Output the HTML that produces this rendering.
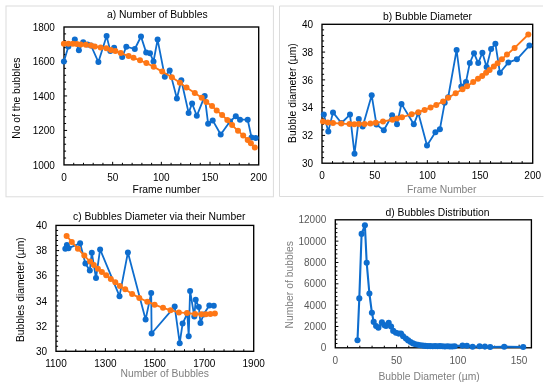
<!DOCTYPE html>
<html><head><meta charset="utf-8"><title>Bubbles</title>
<style>
html,body{margin:0;padding:0;background:#fff;}
svg{display:block;font-family:"Liberation Sans", Arial, sans-serif;}
</style></head>
<body>
<svg width="550" height="388" viewBox="0 0 550 388">
<rect width="550" height="388" fill="#fff"/>
<rect x="6" y="6" width="267.4" height="190.8" fill="#fff" stroke="#dcdcdc" stroke-width="1"/>
<rect x="64" y="27.0" width="194.70" height="137.90" fill="none" stroke="#000" stroke-width="1.35"/>
<path d="M73.73 164.9v-2.1M83.47 164.9v-2.1M93.20 164.9v-2.1M102.94 164.9v-2.1M112.67 164.9v-3.1M122.41 164.9v-2.1M132.14 164.9v-2.1M141.88 164.9v-2.1M151.62 164.9v-2.1M161.35 164.9v-3.1M171.08 164.9v-2.1M180.82 164.9v-2.1M190.56 164.9v-2.1M200.29 164.9v-2.1M210.03 164.9v-3.1M219.76 164.9v-2.1M229.49 164.9v-2.1M239.23 164.9v-2.1M248.96 164.9v-2.1M64 158.00h2.1M64 151.11h2.1M64 144.22h2.1M64 137.32h2.1M64 130.43h3.1M64 123.53h2.1M64 116.64h2.1M64 109.74h2.1M64 102.84h2.1M64 95.95h3.1M64 89.06h2.1M64 82.16h2.1M64 75.27h2.1M64 68.37h2.1M64 61.48h3.1M64 54.58h2.1M64 47.69h2.1M64 40.79h2.1M64 33.90h2.1" stroke="#000" stroke-width="1" fill="none"/>
<g fill="#0E6DCE" stroke="none"><polyline points="63.9,61.5 68.4,46.4 74.8,39.6 78.9,50.3 83.2,42.2 87.5,44.5 91.0,45.5 98.4,62.1 106.6,36.1 110.3,50.9 114.1,47.7 122.2,57.1 126.3,46.7 134.8,49.0 141.0,36.5 146.2,52.6 150.0,53.2 153.5,61.5 157.6,39.6 164.8,76.7 169.7,70.6 176.9,98.5 181.3,80.3 188.6,112.9 192.1,103.5 196.8,115.8 204.7,96.1 208.1,123.7 212.7,120.4 220.7,134.5 230.0,121.5 235.8,116.2 240.0,119.7 247.7,119.7 251.5,137.4 255.7,138.0" fill="none" stroke="#0E6DCE" stroke-width="1.8" stroke-linejoin="round"/>
<circle cx="63.9" cy="61.5" r="3.0"/>
<circle cx="68.4" cy="46.4" r="3.0"/>
<circle cx="74.8" cy="39.6" r="3.0"/>
<circle cx="78.9" cy="50.3" r="3.0"/>
<circle cx="83.2" cy="42.2" r="3.0"/>
<circle cx="87.5" cy="44.5" r="3.0"/>
<circle cx="91.0" cy="45.5" r="3.0"/>
<circle cx="98.4" cy="62.1" r="3.0"/>
<circle cx="106.6" cy="36.1" r="3.0"/>
<circle cx="110.3" cy="50.9" r="3.0"/>
<circle cx="114.1" cy="47.7" r="3.0"/>
<circle cx="122.2" cy="57.1" r="3.0"/>
<circle cx="126.3" cy="46.7" r="3.0"/>
<circle cx="134.8" cy="49.0" r="3.0"/>
<circle cx="141.0" cy="36.5" r="3.0"/>
<circle cx="146.2" cy="52.6" r="3.0"/>
<circle cx="150.0" cy="53.2" r="3.0"/>
<circle cx="153.5" cy="61.5" r="3.0"/>
<circle cx="157.6" cy="39.6" r="3.0"/>
<circle cx="164.8" cy="76.7" r="3.0"/>
<circle cx="169.7" cy="70.6" r="3.0"/>
<circle cx="176.9" cy="98.5" r="3.0"/>
<circle cx="181.3" cy="80.3" r="3.0"/>
<circle cx="188.6" cy="112.9" r="3.0"/>
<circle cx="192.1" cy="103.5" r="3.0"/>
<circle cx="196.8" cy="115.8" r="3.0"/>
<circle cx="204.7" cy="96.1" r="3.0"/>
<circle cx="208.1" cy="123.7" r="3.0"/>
<circle cx="212.7" cy="120.4" r="3.0"/>
<circle cx="220.7" cy="134.5" r="3.0"/>
<circle cx="230.0" cy="121.5" r="3.0"/>
<circle cx="235.8" cy="116.2" r="3.0"/>
<circle cx="240.0" cy="119.7" r="3.0"/>
<circle cx="247.7" cy="119.7" r="3.0"/>
<circle cx="251.5" cy="137.4" r="3.0"/>
<circle cx="255.7" cy="138.0" r="3.0"/>
</g>
<g fill="#FE7716" stroke="none"><polyline points="63.9,43.7 68.4,43.7 72.9,43.7 76.8,44.1 80.6,44.5 85.8,44.7 90.9,45.5 94.8,46.4 100.6,47.6 106.4,48.2 110.9,50.1 115.4,50.9 120.8,53.1 128.6,56.1 133.5,57.8 140.0,60.3 146.4,63.1 153.7,66.8 162.2,71.6 171.9,77.2 179.9,82.7 186.5,87.6 194.8,93.1 201.7,97.8 206.3,102.0 212.0,105.9 216.7,110.6 222.1,114.9 227.3,120.1 232.1,125.1 238.0,130.8 243.2,135.4 247.7,140.0 250.9,143.3 254.8,147.5" fill="none" stroke="#FE7716" stroke-width="1.8" stroke-linejoin="round"/>
<circle cx="63.9" cy="43.7" r="3.0"/>
<circle cx="68.4" cy="43.7" r="3.0"/>
<circle cx="72.9" cy="43.7" r="3.0"/>
<circle cx="76.8" cy="44.1" r="3.0"/>
<circle cx="80.6" cy="44.5" r="3.0"/>
<circle cx="85.8" cy="44.7" r="3.0"/>
<circle cx="90.9" cy="45.5" r="3.0"/>
<circle cx="94.8" cy="46.4" r="3.0"/>
<circle cx="100.6" cy="47.6" r="3.0"/>
<circle cx="106.4" cy="48.2" r="3.0"/>
<circle cx="110.9" cy="50.1" r="3.0"/>
<circle cx="115.4" cy="50.9" r="3.0"/>
<circle cx="120.8" cy="53.1" r="3.0"/>
<circle cx="128.6" cy="56.1" r="3.0"/>
<circle cx="133.5" cy="57.8" r="3.0"/>
<circle cx="140.0" cy="60.3" r="3.0"/>
<circle cx="146.4" cy="63.1" r="3.0"/>
<circle cx="153.7" cy="66.8" r="3.0"/>
<circle cx="162.2" cy="71.6" r="3.0"/>
<circle cx="171.9" cy="77.2" r="3.0"/>
<circle cx="179.9" cy="82.7" r="3.0"/>
<circle cx="186.5" cy="87.6" r="3.0"/>
<circle cx="194.8" cy="93.1" r="3.0"/>
<circle cx="201.7" cy="97.8" r="3.0"/>
<circle cx="206.3" cy="102.0" r="3.0"/>
<circle cx="212.0" cy="105.9" r="3.0"/>
<circle cx="216.7" cy="110.6" r="3.0"/>
<circle cx="222.1" cy="114.9" r="3.0"/>
<circle cx="227.3" cy="120.1" r="3.0"/>
<circle cx="232.1" cy="125.1" r="3.0"/>
<circle cx="238.0" cy="130.8" r="3.0"/>
<circle cx="243.2" cy="135.4" r="3.0"/>
<circle cx="247.7" cy="140.0" r="3.0"/>
<circle cx="250.9" cy="143.3" r="3.0"/>
<circle cx="254.8" cy="147.5" r="3.0"/>
</g>
<text x="157.3" y="18" font-size="10.35" text-anchor="middle" fill="#000">a) Number of Bubbles</text>
<text x="54.9" y="168.5" font-size="10" text-anchor="end" fill="#000">1000</text>
<text x="54.9" y="134.0" font-size="10" text-anchor="end" fill="#000">1200</text>
<text x="54.9" y="99.5" font-size="10" text-anchor="end" fill="#000">1400</text>
<text x="54.9" y="65.1" font-size="10" text-anchor="end" fill="#000">1600</text>
<text x="54.9" y="30.6" font-size="10" text-anchor="end" fill="#000">1800</text>
<text x="64.0" y="180.9" font-size="10" text-anchor="middle" fill="#000">0</text>
<text x="112.7" y="180.9" font-size="10" text-anchor="middle" fill="#000">50</text>
<text x="161.3" y="180.9" font-size="10" text-anchor="middle" fill="#000">100</text>
<text x="210.0" y="180.9" font-size="10" text-anchor="middle" fill="#000">150</text>
<text x="258.7" y="180.9" font-size="10" text-anchor="middle" fill="#000">200</text>
<text x="166.5" y="193.4" font-size="10.35" text-anchor="middle" fill="#000">Frame number</text>
<text x="19.6" y="98.2" font-size="10.35" text-anchor="middle" fill="#000" transform="rotate(-90 19.6 98.2)">No of the bubbles</text>
<path d="M543 6H279.5V196.5H543.5" fill="none" stroke="#dcdcdc" stroke-width="1"/>
<rect x="322.0" y="24.3" width="210.70" height="138.90" fill="none" stroke="#000" stroke-width="1.35"/>
<path d="M332.54 163.2v-2.1M343.07 163.2v-2.1M353.61 163.2v-2.1M364.14 163.2v-2.1M374.68 163.2v-3.1M385.21 163.2v-2.1M395.75 163.2v-2.1M406.28 163.2v-2.1M416.82 163.2v-2.1M427.35 163.2v-3.1M437.89 163.2v-2.1M448.42 163.2v-2.1M458.96 163.2v-2.1M469.49 163.2v-2.1M480.03 163.2v-3.1M490.56 163.2v-2.1M501.10 163.2v-2.1M511.63 163.2v-2.1M522.17 163.2v-2.1M322.0 157.64h2.1M322.0 152.09h2.1M322.0 146.53h2.1M322.0 140.98h2.1M322.0 135.42h3.1M322.0 129.86h2.1M322.0 124.31h2.1M322.0 118.75h2.1M322.0 113.20h2.1M322.0 107.64h3.1M322.0 102.08h2.1M322.0 96.53h2.1M322.0 90.97h2.1M322.0 85.42h2.1M322.0 79.86h3.1M322.0 74.30h2.1M322.0 68.75h2.1M322.0 63.19h2.1M322.0 57.64h2.1M322.0 52.08h3.1M322.0 46.52h2.1M322.0 40.97h2.1M322.0 35.41h2.1M322.0 29.86h2.1" stroke="#000" stroke-width="1" fill="none"/>
<g fill="#0E6DCE" stroke="none"><polyline points="323.8,114.6 328.3,131.4 333.0,112.4 341.4,123.0 350.0,114.6 354.5,153.8 358.8,119.1 362.7,126.4 371.7,95.3 376.5,124.6 383.8,130.3 392.1,115.3 397.0,124.3 401.5,103.9 413.8,124.3 418.3,113.0 427.0,145.4 435.4,132.3 439.9,129.2 444.7,102.8 448.2,97.2 456.6,50.0 461.3,86.6 466.0,81.9 469.8,63.0 474.0,53.2 478.2,63.1 482.4,52.7 486.6,67.0 491.1,48.9 495.4,43.7 499.9,72.7 508.4,62.4 516.9,59.3 529.4,45.6" fill="none" stroke="#0E6DCE" stroke-width="1.8" stroke-linejoin="round"/>
<circle cx="323.8" cy="114.6" r="3.0"/>
<circle cx="328.3" cy="131.4" r="3.0"/>
<circle cx="333.0" cy="112.4" r="3.0"/>
<circle cx="341.4" cy="123.0" r="3.0"/>
<circle cx="350.0" cy="114.6" r="3.0"/>
<circle cx="354.5" cy="153.8" r="3.0"/>
<circle cx="358.8" cy="119.1" r="3.0"/>
<circle cx="362.7" cy="126.4" r="3.0"/>
<circle cx="371.7" cy="95.3" r="3.0"/>
<circle cx="376.5" cy="124.6" r="3.0"/>
<circle cx="383.8" cy="130.3" r="3.0"/>
<circle cx="392.1" cy="115.3" r="3.0"/>
<circle cx="397.0" cy="124.3" r="3.0"/>
<circle cx="401.5" cy="103.9" r="3.0"/>
<circle cx="413.8" cy="124.3" r="3.0"/>
<circle cx="418.3" cy="113.0" r="3.0"/>
<circle cx="427.0" cy="145.4" r="3.0"/>
<circle cx="435.4" cy="132.3" r="3.0"/>
<circle cx="439.9" cy="129.2" r="3.0"/>
<circle cx="444.7" cy="102.8" r="3.0"/>
<circle cx="448.2" cy="97.2" r="3.0"/>
<circle cx="456.6" cy="50.0" r="3.0"/>
<circle cx="461.3" cy="86.6" r="3.0"/>
<circle cx="466.0" cy="81.9" r="3.0"/>
<circle cx="469.8" cy="63.0" r="3.0"/>
<circle cx="474.0" cy="53.2" r="3.0"/>
<circle cx="478.2" cy="63.1" r="3.0"/>
<circle cx="482.4" cy="52.7" r="3.0"/>
<circle cx="486.6" cy="67.0" r="3.0"/>
<circle cx="491.1" cy="48.9" r="3.0"/>
<circle cx="495.4" cy="43.7" r="3.0"/>
<circle cx="499.9" cy="72.7" r="3.0"/>
<circle cx="508.4" cy="62.4" r="3.0"/>
<circle cx="516.9" cy="59.3" r="3.0"/>
<circle cx="529.4" cy="45.6" r="3.0"/>
</g>
<g fill="#FE7716" stroke="none"><polyline points="323.0,121.6 327.9,122.5 333.0,123.0 341.2,123.6 349.5,124.0 354.3,124.3 358.8,124.0 364.6,124.1 370.4,123.5 375.8,122.8 383.0,121.5 392.5,119.7 397.0,118.6 402.0,117.2 411.6,114.3 418.3,112.2 424.6,109.9 430.6,107.5 436.3,104.9 443.1,101.4 448.1,97.8 455.7,93.3 462.5,89.3 467.1,86.3 473.2,82.1 478.0,78.7 482.2,75.9 486.1,72.8 489.6,69.9 493.8,66.6 497.6,63.3 501.9,59.2 507.0,54.6 514.6,47.9 528.3,34.5" fill="none" stroke="#FE7716" stroke-width="1.8" stroke-linejoin="round"/>
<circle cx="323.0" cy="121.6" r="3.0"/>
<circle cx="327.9" cy="122.5" r="3.0"/>
<circle cx="333.0" cy="123.0" r="3.0"/>
<circle cx="341.2" cy="123.6" r="3.0"/>
<circle cx="349.5" cy="124.0" r="3.0"/>
<circle cx="354.3" cy="124.3" r="3.0"/>
<circle cx="358.8" cy="124.0" r="3.0"/>
<circle cx="364.6" cy="124.1" r="3.0"/>
<circle cx="370.4" cy="123.5" r="3.0"/>
<circle cx="375.8" cy="122.8" r="3.0"/>
<circle cx="383.0" cy="121.5" r="3.0"/>
<circle cx="392.5" cy="119.7" r="3.0"/>
<circle cx="397.0" cy="118.6" r="3.0"/>
<circle cx="402.0" cy="117.2" r="3.0"/>
<circle cx="411.6" cy="114.3" r="3.0"/>
<circle cx="418.3" cy="112.2" r="3.0"/>
<circle cx="424.6" cy="109.9" r="3.0"/>
<circle cx="430.6" cy="107.5" r="3.0"/>
<circle cx="436.3" cy="104.9" r="3.0"/>
<circle cx="443.1" cy="101.4" r="3.0"/>
<circle cx="448.1" cy="97.8" r="3.0"/>
<circle cx="455.7" cy="93.3" r="3.0"/>
<circle cx="462.5" cy="89.3" r="3.0"/>
<circle cx="467.1" cy="86.3" r="3.0"/>
<circle cx="473.2" cy="82.1" r="3.0"/>
<circle cx="478.0" cy="78.7" r="3.0"/>
<circle cx="482.2" cy="75.9" r="3.0"/>
<circle cx="486.1" cy="72.8" r="3.0"/>
<circle cx="489.6" cy="69.9" r="3.0"/>
<circle cx="493.8" cy="66.6" r="3.0"/>
<circle cx="497.6" cy="63.3" r="3.0"/>
<circle cx="501.9" cy="59.2" r="3.0"/>
<circle cx="507.0" cy="54.6" r="3.0"/>
<circle cx="514.6" cy="47.9" r="3.0"/>
<circle cx="528.3" cy="34.5" r="3.0"/>
</g>
<text x="427.5" y="19.6" font-size="10.35" text-anchor="middle" fill="#000">b) Bubble Diameter</text>
<text x="313.1" y="166.8" font-size="10" text-anchor="end" fill="#000">30</text>
<text x="313.1" y="139.0" font-size="10" text-anchor="end" fill="#000">32</text>
<text x="313.1" y="111.2" font-size="10" text-anchor="end" fill="#000">34</text>
<text x="313.1" y="83.5" font-size="10" text-anchor="end" fill="#000">36</text>
<text x="313.1" y="55.7" font-size="10" text-anchor="end" fill="#000">38</text>
<text x="313.1" y="27.9" font-size="10" text-anchor="end" fill="#000">40</text>
<text x="322.0" y="179.3" font-size="10" text-anchor="middle" fill="#000">0</text>
<text x="374.7" y="179.3" font-size="10" text-anchor="middle" fill="#000">50</text>
<text x="427.4" y="179.3" font-size="10" text-anchor="middle" fill="#000">100</text>
<text x="480.0" y="179.3" font-size="10" text-anchor="middle" fill="#000">150</text>
<text x="532.7" y="179.3" font-size="10" text-anchor="middle" fill="#000">200</text>
<text x="441.8" y="192.9" font-size="10.35" text-anchor="middle" fill="#808080">Frame Number</text>
<text x="296" y="93.1" font-size="10.35" text-anchor="middle" fill="#000" transform="rotate(-90 296 93.1)">Bubble diameter (µm)</text>
<rect x="56.0" y="225.4" width="197.70" height="125.90" fill="none" stroke="#000" stroke-width="1.35"/>
<path d="M65.89 351.3v-2.1M75.77 351.3v-2.1M85.66 351.3v-2.1M95.54 351.3v-2.1M105.42 351.3v-3.1M115.31 351.3v-2.1M125.19 351.3v-2.1M135.08 351.3v-2.1M144.97 351.3v-2.1M154.85 351.3v-3.1M164.73 351.3v-2.1M174.62 351.3v-2.1M184.50 351.3v-2.1M194.39 351.3v-2.1M204.28 351.3v-3.1M214.16 351.3v-2.1M224.04 351.3v-2.1M233.93 351.3v-2.1M243.81 351.3v-2.1M56.0 346.26h2.1M56.0 341.23h2.1M56.0 336.19h2.1M56.0 331.16h2.1M56.0 326.12h3.1M56.0 321.08h2.1M56.0 316.05h2.1M56.0 311.01h2.1M56.0 305.98h2.1M56.0 300.94h3.1M56.0 295.90h2.1M56.0 290.87h2.1M56.0 285.83h2.1M56.0 280.80h2.1M56.0 275.76h3.1M56.0 270.72h2.1M56.0 265.69h2.1M56.0 260.65h2.1M56.0 255.62h2.1M56.0 250.58h3.1M56.0 245.54h2.1M56.0 240.51h2.1M56.0 235.47h2.1M56.0 230.44h2.1" stroke="#000" stroke-width="1" fill="none"/>
<g fill="#0E6DCE" stroke="none"><polyline points="65.3,248.8 66.9,245.0 68.5,248.2 80.1,243.3 85.4,263.5 89.8,270.4 91.8,252.8 96.0,278.0 100.1,249.4 119.5,296.2 127.9,252.5 145.6,319.6 151.2,293.0 151.6,333.5 174.7,306.6 179.7,343.2 182.6,323.6 187.3,313.5 188.7,336.2 190.1,290.9 194.3,316.5 195.7,299.7 198.8,307.0 200.5,323.0 203.5,314.5 209.3,305.4 213.8,305.8" fill="none" stroke="#0E6DCE" stroke-width="1.8" stroke-linejoin="round"/>
<circle cx="65.3" cy="248.8" r="3.0"/>
<circle cx="66.9" cy="245.0" r="3.0"/>
<circle cx="68.5" cy="248.2" r="3.0"/>
<circle cx="80.1" cy="243.3" r="3.0"/>
<circle cx="85.4" cy="263.5" r="3.0"/>
<circle cx="89.8" cy="270.4" r="3.0"/>
<circle cx="91.8" cy="252.8" r="3.0"/>
<circle cx="96.0" cy="278.0" r="3.0"/>
<circle cx="100.1" cy="249.4" r="3.0"/>
<circle cx="119.5" cy="296.2" r="3.0"/>
<circle cx="127.9" cy="252.5" r="3.0"/>
<circle cx="145.6" cy="319.6" r="3.0"/>
<circle cx="151.2" cy="293.0" r="3.0"/>
<circle cx="151.6" cy="333.5" r="3.0"/>
<circle cx="174.7" cy="306.6" r="3.0"/>
<circle cx="179.7" cy="343.2" r="3.0"/>
<circle cx="182.6" cy="323.6" r="3.0"/>
<circle cx="187.3" cy="313.5" r="3.0"/>
<circle cx="188.7" cy="336.2" r="3.0"/>
<circle cx="190.1" cy="290.9" r="3.0"/>
<circle cx="194.3" cy="316.5" r="3.0"/>
<circle cx="195.7" cy="299.7" r="3.0"/>
<circle cx="198.8" cy="307.0" r="3.0"/>
<circle cx="200.5" cy="323.0" r="3.0"/>
<circle cx="203.5" cy="314.5" r="3.0"/>
<circle cx="209.3" cy="305.4" r="3.0"/>
<circle cx="213.8" cy="305.8" r="3.0"/>
</g>
<g fill="#FE7716" stroke="none"><polyline points="66.6,235.9 71.8,241.9 77.9,248.7 84.3,255.6 90.1,261.6 93.8,264.9 97.9,268.8 101.9,272.1 106.2,275.2 110.8,279.1 115.3,282.2 119.9,285.9 125.2,289.2 132.1,293.9 139.3,297.9 147.3,301.7 154.6,304.7 163.0,307.8 170.5,310.2 178.9,312.4 187.0,313.1 195.1,314.0 201.4,314.3 205.9,314.2 210.4,313.9 214.9,313.5" fill="none" stroke="#FE7716" stroke-width="1.8" stroke-linejoin="round"/>
<circle cx="66.6" cy="235.9" r="3.0"/>
<circle cx="71.8" cy="241.9" r="3.0"/>
<circle cx="77.9" cy="248.7" r="3.0"/>
<circle cx="84.3" cy="255.6" r="3.0"/>
<circle cx="90.1" cy="261.6" r="3.0"/>
<circle cx="93.8" cy="264.9" r="3.0"/>
<circle cx="97.9" cy="268.8" r="3.0"/>
<circle cx="101.9" cy="272.1" r="3.0"/>
<circle cx="106.2" cy="275.2" r="3.0"/>
<circle cx="110.8" cy="279.1" r="3.0"/>
<circle cx="115.3" cy="282.2" r="3.0"/>
<circle cx="119.9" cy="285.9" r="3.0"/>
<circle cx="125.2" cy="289.2" r="3.0"/>
<circle cx="132.1" cy="293.9" r="3.0"/>
<circle cx="139.3" cy="297.9" r="3.0"/>
<circle cx="147.3" cy="301.7" r="3.0"/>
<circle cx="154.6" cy="304.7" r="3.0"/>
<circle cx="163.0" cy="307.8" r="3.0"/>
<circle cx="170.5" cy="310.2" r="3.0"/>
<circle cx="178.9" cy="312.4" r="3.0"/>
<circle cx="187.0" cy="313.1" r="3.0"/>
<circle cx="195.1" cy="314.0" r="3.0"/>
<circle cx="201.4" cy="314.3" r="3.0"/>
<circle cx="205.9" cy="314.2" r="3.0"/>
<circle cx="210.4" cy="313.9" r="3.0"/>
<circle cx="214.9" cy="313.5" r="3.0"/>
</g>
<text x="159.2" y="220.4" font-size="10.35" text-anchor="middle" fill="#000">c) Bubbles Diameter via their Number</text>
<text x="47" y="354.9" font-size="10" text-anchor="end" fill="#000">30</text>
<text x="47" y="329.7" font-size="10" text-anchor="end" fill="#000">32</text>
<text x="47" y="304.5" font-size="10" text-anchor="end" fill="#000">34</text>
<text x="47" y="279.4" font-size="10" text-anchor="end" fill="#000">36</text>
<text x="47" y="254.2" font-size="10" text-anchor="end" fill="#000">38</text>
<text x="47" y="229.0" font-size="10" text-anchor="end" fill="#000">40</text>
<text x="56.0" y="367.0" font-size="10" text-anchor="middle" fill="#000">1100</text>
<text x="105.4" y="367.0" font-size="10" text-anchor="middle" fill="#000">1300</text>
<text x="154.8" y="367.0" font-size="10" text-anchor="middle" fill="#000">1500</text>
<text x="204.3" y="367.0" font-size="10" text-anchor="middle" fill="#000">1700</text>
<text x="253.7" y="367.0" font-size="10" text-anchor="middle" fill="#000">1900</text>
<text x="164.7" y="376.5" font-size="10.35" text-anchor="middle" fill="#808080">Number of Bubbles</text>
<text x="23.6" y="289.7" font-size="10.35" text-anchor="middle" fill="#000" transform="rotate(-90 23.6 289.7)">Bubbles diameter (µm)</text>
<rect x="335.3" y="219.8" width="196.10" height="128.00" fill="none" stroke="#000" stroke-width="1.35"/>
<path d="M347.56 347.8v-2.1M359.81 347.8v-2.1M372.07 347.8v-2.1M384.32 347.8v-2.1M396.58 347.8v-3.1M408.84 347.8v-2.1M421.09 347.8v-2.1M433.35 347.8v-2.1M445.61 347.8v-2.1M457.86 347.8v-3.1M470.12 347.8v-2.1M482.38 347.8v-2.1M494.63 347.8v-2.1M506.89 347.8v-2.1M519.14 347.8v-3.1M335.3 343.53h2.1M335.3 339.27h2.1M335.3 335.00h2.1M335.3 330.73h2.1M335.3 326.47h3.1M335.3 322.20h2.1M335.3 317.93h2.1M335.3 313.67h2.1M335.3 309.40h2.1M335.3 305.13h3.1M335.3 300.87h2.1M335.3 296.60h2.1M335.3 292.33h2.1M335.3 288.07h2.1M335.3 283.80h3.1M335.3 279.53h2.1M335.3 275.27h2.1M335.3 271.00h2.1M335.3 266.73h2.1M335.3 262.47h3.1M335.3 258.20h2.1M335.3 253.93h2.1M335.3 249.67h2.1M335.3 245.40h2.1M335.3 241.13h3.1M335.3 236.87h2.1M335.3 232.60h2.1M335.3 228.33h2.1M335.3 224.07h2.1" stroke="#000" stroke-width="1" fill="none"/>
<g fill="#0E6DCE" stroke="none"><polyline points="357.5,340.3 359.3,298.4 361.6,233.9 364.9,225.3 366.7,262.8 369.4,293.5 371.9,312.8 373.7,321.9 376.1,326.0 378.4,327.8 381.9,322.4 384.2,325.1 386.0,326.0 388.7,322.9 391.1,326.5 393.2,330.9 395.9,332.7 398.6,333.6 401.0,333.6 403.1,336.3 405.9,338.6 408.2,340.4 410.6,342.0 413.0,343.4 415.5,344.3 418.0,344.8 420.4,345.3 422.9,345.6 425.3,345.9 427.8,346.1 430.2,346.1 432.7,346.3 435.1,346.1 437.6,346.3 440.0,346.1 442.5,346.3 444.9,346.5 447.4,346.3 449.8,346.5 452.3,346.5 454.7,346.3 462.5,345.6 466.9,345.8 472.6,346.7 479.6,346.3 484.9,346.6 490.2,347.0 504.2,346.7 523.2,347.0" fill="none" stroke="#0E6DCE" stroke-width="2.1" stroke-linejoin="round"/>
<circle cx="357.5" cy="340.3" r="3.05"/>
<circle cx="359.3" cy="298.4" r="3.05"/>
<circle cx="361.6" cy="233.9" r="3.05"/>
<circle cx="364.9" cy="225.3" r="3.05"/>
<circle cx="366.7" cy="262.8" r="3.05"/>
<circle cx="369.4" cy="293.5" r="3.05"/>
<circle cx="371.9" cy="312.8" r="3.05"/>
<circle cx="373.7" cy="321.9" r="3.05"/>
<circle cx="376.1" cy="326.0" r="3.05"/>
<circle cx="378.4" cy="327.8" r="3.05"/>
<circle cx="381.9" cy="322.4" r="3.05"/>
<circle cx="384.2" cy="325.1" r="3.05"/>
<circle cx="386.0" cy="326.0" r="3.05"/>
<circle cx="388.7" cy="322.9" r="3.05"/>
<circle cx="391.1" cy="326.5" r="3.05"/>
<circle cx="393.2" cy="330.9" r="3.05"/>
<circle cx="395.9" cy="332.7" r="3.05"/>
<circle cx="398.6" cy="333.6" r="3.05"/>
<circle cx="401.0" cy="333.6" r="3.05"/>
<circle cx="403.1" cy="336.3" r="3.05"/>
<circle cx="405.9" cy="338.6" r="3.05"/>
<circle cx="408.2" cy="340.4" r="3.05"/>
<circle cx="410.6" cy="342.0" r="3.05"/>
<circle cx="413.0" cy="343.4" r="3.05"/>
<circle cx="415.5" cy="344.3" r="3.05"/>
<circle cx="418.0" cy="344.8" r="3.05"/>
<circle cx="420.4" cy="345.3" r="3.05"/>
<circle cx="422.9" cy="345.6" r="3.05"/>
<circle cx="425.3" cy="345.9" r="3.05"/>
<circle cx="427.8" cy="346.1" r="3.05"/>
<circle cx="430.2" cy="346.1" r="3.05"/>
<circle cx="432.7" cy="346.3" r="3.05"/>
<circle cx="435.1" cy="346.1" r="3.05"/>
<circle cx="437.6" cy="346.3" r="3.05"/>
<circle cx="440.0" cy="346.1" r="3.05"/>
<circle cx="442.5" cy="346.3" r="3.05"/>
<circle cx="444.9" cy="346.5" r="3.05"/>
<circle cx="447.4" cy="346.3" r="3.05"/>
<circle cx="449.8" cy="346.5" r="3.05"/>
<circle cx="452.3" cy="346.5" r="3.05"/>
<circle cx="454.7" cy="346.3" r="3.05"/>
<circle cx="462.5" cy="345.6" r="3.05"/>
<circle cx="466.9" cy="345.8" r="3.05"/>
<circle cx="472.6" cy="346.7" r="3.05"/>
<circle cx="479.6" cy="346.3" r="3.05"/>
<circle cx="484.9" cy="346.6" r="3.05"/>
<circle cx="490.2" cy="347.0" r="3.05"/>
<circle cx="504.2" cy="346.7" r="3.05"/>
<circle cx="523.2" cy="347.0" r="3.05"/>
</g>
<text x="437.5" y="215.8" font-size="10.35" text-anchor="middle" fill="#000">d) Bubbles Distribution</text>
<text x="326.3" y="351.4" font-size="10" text-anchor="end" fill="#595959">0</text>
<text x="326.3" y="330.1" font-size="10" text-anchor="end" fill="#595959">2000</text>
<text x="326.3" y="308.7" font-size="10" text-anchor="end" fill="#595959">4000</text>
<text x="326.3" y="287.4" font-size="10" text-anchor="end" fill="#595959">6000</text>
<text x="326.3" y="266.1" font-size="10" text-anchor="end" fill="#595959">8000</text>
<text x="326.3" y="244.7" font-size="10" text-anchor="end" fill="#595959">10000</text>
<text x="326.3" y="223.4" font-size="10" text-anchor="end" fill="#595959">12000</text>
<text x="335.3" y="363.6" font-size="10" text-anchor="middle" fill="#595959">0</text>
<text x="396.6" y="363.6" font-size="10" text-anchor="middle" fill="#595959">50</text>
<text x="457.9" y="363.6" font-size="10" text-anchor="middle" fill="#595959">100</text>
<text x="519.1" y="363.6" font-size="10" text-anchor="middle" fill="#595959">150</text>
<text x="429.1" y="379.8" font-size="10.35" text-anchor="middle" fill="#808080">Bubble Diameter (µm)</text>
<text x="292.6" y="284.8" font-size="10.35" text-anchor="middle" fill="#808080" transform="rotate(-90 292.6 284.8)">Number of bubbles</text>
</svg>
</body></html>
